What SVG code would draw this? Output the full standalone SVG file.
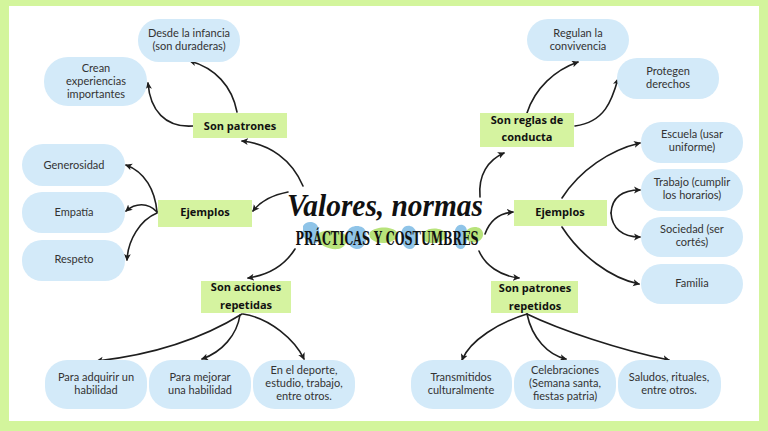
<svg xmlns="http://www.w3.org/2000/svg" width="768" height="431" viewBox="0 0 768 431">
<defs>
<style>
.pill{fill:#d3eaf9}
.lab{fill:#d5f3a0}
.t{font-family:Lato,"Liberation Sans",sans-serif;font-size:11px;fill:#333;text-anchor:middle}
.b{font-family:"Open Sans","Liberation Sans",sans-serif;font-size:11px;font-weight:bold;fill:#111;text-anchor:middle}
.c{fill:none;stroke:#1e1e1e;stroke-width:1.6;stroke-linecap:round;marker-end:url(#ah)}
.bb{fill:#8fc4e8}
.gb{fill:#b8e37b}
</style>
<marker id="ah" markerUnits="userSpaceOnUse" markerWidth="9" markerHeight="9" refX="6" refY="4" orient="auto">
<path d="M0,0.5 L7,4 L0,7.5 L1.8,4 Z" fill="#1e1e1e"/>
</marker>
</defs>
<rect x="0" y="0" width="768" height="431" fill="#d3f59c"/>
<rect x="9" y="6" width="750" height="415" fill="#ffffff"/>

<g id="title">
<path class="bb" d="M303,226 C306,220 316,221 318,227 C320,233 322,240 316,243 C310,246 304,240 303,234 Z"/>
<path class="gb" d="M316,236 C322,228 336,230 344,234 C350,238 346,248 338,249 C330,250 318,246 316,236 Z"/>
<path class="bb" d="M347,232 C350,224 364,224 366,232 C368,240 364,250 356,249 C349,248 345,240 347,232 Z"/>
<path class="gb" d="M370,232 C376,226 392,226 397,232 C400,238 392,243 383,243 C374,243 367,238 370,232 Z"/>
<path class="bb" d="M402,230 C404,224 414,224 416,232 C418,240 416,250 409,249 C402,248 400,238 402,230 Z"/>
<path class="gb" d="M424,232 C430,226 444,228 446,234 C447,240 438,244 430,243 C423,242 420,237 424,232 Z"/>
<path class="bb" d="M455,230 C457,223 466,223 467,231 C468,240 466,250 460,249 C454,248 453,238 455,230 Z"/>
<path class="gb" d="M467,230 C472,225 482,226 483,233 C484,240 476,244 470,242 C465,240 464,234 467,230 Z"/>
<text x="385" y="216" font-family="'Liberation Serif','DejaVu Serif',serif" font-style="italic" font-weight="bold" font-size="32" fill="#111" text-anchor="middle" textLength="196" lengthAdjust="spacingAndGlyphs">Valores, normas</text>
<text x="387" y="245" font-family="'DejaVu Serif','Liberation Serif',serif" font-weight="bold" font-size="19" fill="#111" text-anchor="middle" textLength="183" lengthAdjust="spacingAndGlyphs">PRÁCTICAS Y COSTUMBRES</text>
</g>

<g id="connectors">
<path class="c" d="M303,186 C292,160 270,144 242,141"/>
<path class="c" d="M237,112 C232,86 215,68 190,61"/>
<path class="c" d="M193,126 C165,128 150,110 148,83"/>
<path class="c" d="M288,192 C272,195 260,202 253,211"/>
<path class="c" d="M157,212 C155,190 145,172 126,165"/>
<path class="c" d="M157,212 C148,202 135,203 126,211"/>
<path class="c" d="M157,213 C140,220 128,240 127,260"/>
<path class="c" d="M295,249 C285,265 268,275 248,278"/>
<path class="c" d="M242,314 C200,340 150,355 97,361"/>
<path class="c" d="M240,315 C237,335 222,352 202,359"/>
<path class="c" d="M243,314 C270,318 295,340 304,359"/>
<path class="c" d="M480,197 C478,175 488,160 504,153"/>
<path class="c" d="M527,113 C535,88 555,70 578,62"/>
<path class="c" d="M575,126 C605,122 612,100 618,79"/>
<path class="c" d="M485,234 C490,220 500,213 513,212"/>
<path class="c" d="M562,198 C580,170 610,150 640,143"/>
<path class="c" d="M611,213 C612,198 622,190 640,190"/>
<path class="c" d="M611,213 C612,228 622,237 640,237"/>
<path class="c" d="M562,227 C580,255 610,278 639,284"/>
<path class="c" d="M479,251 C485,265 500,276 519,278"/>
<path class="c" d="M527,314 C500,322 470,340 462,360"/>
<path class="c" d="M527,314 C532,338 548,355 566,359"/>
<path class="c" d="M527,314 C560,330 620,350 669,360"/>
</g>

<g id="son-patrones"><rect class="lab" x="193" y="113" width="94" height="25"/><text class="b" x="240" y="130">Son patrones</text></g>
<g id="ejemplos-izq"><rect class="lab" x="158" y="200" width="94" height="27"/><text class="b" x="205" y="216">Ejemplos</text></g>
<g id="son-acciones"><rect class="lab" x="201" y="281" width="90" height="32"/><text class="b" x="246" y="291">Son acciones</text><text class="b" x="246" y="309">repetidas</text></g>
<g id="son-reglas"><rect class="lab" x="480" y="113" width="94" height="34"/><text class="b" x="527" y="124">Son reglas de</text><text class="b" x="527" y="141">conducta</text></g>
<g id="ejemplos-der"><rect class="lab" x="514" y="200" width="93" height="26"/><text class="b" x="560" y="216">Ejemplos</text></g>
<g id="son-patrones-repetidos"><rect class="lab" x="491" y="281" width="87" height="32"/><text class="b" x="535" y="292">Son patrones</text><text class="b" x="535" y="310">repetidos</text></g>

<g id="desde-infancia"><rect class="pill" x="138" y="19" width="102" height="43" rx="21"/><text class="t" x="189" y="37">Desde la infancia</text><text class="t" x="189" y="50">(son duraderas)</text></g>
<g id="crean"><rect class="pill" x="44" y="57" width="103" height="49" rx="24"/><text class="t" x="96" y="72">Crean</text><text class="t" x="96" y="85">experiencias</text><text class="t" x="96" y="98">importantes</text></g>
<g id="generosidad"><rect class="pill" x="22" y="144" width="103" height="42" rx="21"/><text class="t" x="74" y="169">Generosidad</text></g>
<g id="empatia"><rect class="pill" x="22" y="192" width="103" height="41" rx="20"/><text class="t" x="74" y="216">Empatía</text></g>
<g id="respeto"><rect class="pill" x="22" y="240" width="103" height="41" rx="20"/><text class="t" x="74" y="263">Respeto</text></g>
<g id="adquirir"><rect class="pill" x="45" y="360" width="102" height="49" rx="22"/><text class="t" x="96" y="381">Para adquirir un</text><text class="t" x="96" y="394">habilidad</text></g>
<g id="mejorar"><rect class="pill" x="149" y="360" width="102" height="49" rx="22"/><text class="t" x="200" y="381">Para mejorar</text><text class="t" x="200" y="394">una habilidad</text></g>
<g id="deporte"><rect class="pill" x="253" y="360" width="102" height="49" rx="22"/><text class="t" x="304" y="374">En el deporte,</text><text class="t" x="304" y="387">estudio, trabajo,</text><text class="t" x="304" y="400">entre otros.</text></g>
<g id="regulan"><rect class="pill" x="527" y="19" width="102" height="42" rx="21"/><text class="t" x="578" y="37">Regulan la</text><text class="t" x="578" y="50">convivencia</text></g>
<g id="protegen"><rect class="pill" x="617" y="58" width="102" height="41" rx="20"/><text class="t" x="668" y="75">Protegen</text><text class="t" x="668" y="88">derechos</text></g>
<g id="escuela"><rect class="pill" x="641" y="122" width="102" height="41" rx="20"/><text class="t" x="692" y="138">Escuela (usar</text><text class="t" x="692" y="151">uniforme)</text></g>
<g id="trabajo"><rect class="pill" x="641" y="169" width="102" height="42" rx="21"/><text class="t" x="692" y="186">Trabajo (cumplir</text><text class="t" x="692" y="199">los horarios)</text></g>
<g id="sociedad"><rect class="pill" x="641" y="217" width="102" height="40" rx="20"/><text class="t" x="692" y="233">Sociedad (ser</text><text class="t" x="692" y="246">cortés)</text></g>
<g id="familia"><rect class="pill" x="641" y="264" width="102" height="40" rx="20"/><text class="t" x="692" y="287">Familia</text></g>
<g id="transmitidos"><rect class="pill" x="411" y="360" width="101" height="49" rx="22"/><text class="t" x="461" y="381">Transmitidos</text><text class="t" x="461" y="394">culturalmente</text></g>
<g id="celebraciones"><rect class="pill" x="514" y="360" width="102" height="49" rx="22"/><text class="t" x="565" y="374">Celebraciones</text><text class="t" x="565" y="387">(Semana santa,</text><text class="t" x="565" y="400">fiestas patria)</text></g>
<g id="saludos"><rect class="pill" x="618" y="360" width="103" height="49" rx="22"/><text class="t" x="669" y="381">Saludos, rituales,</text><text class="t" x="669" y="394">entre otros.</text></g>
</svg>
